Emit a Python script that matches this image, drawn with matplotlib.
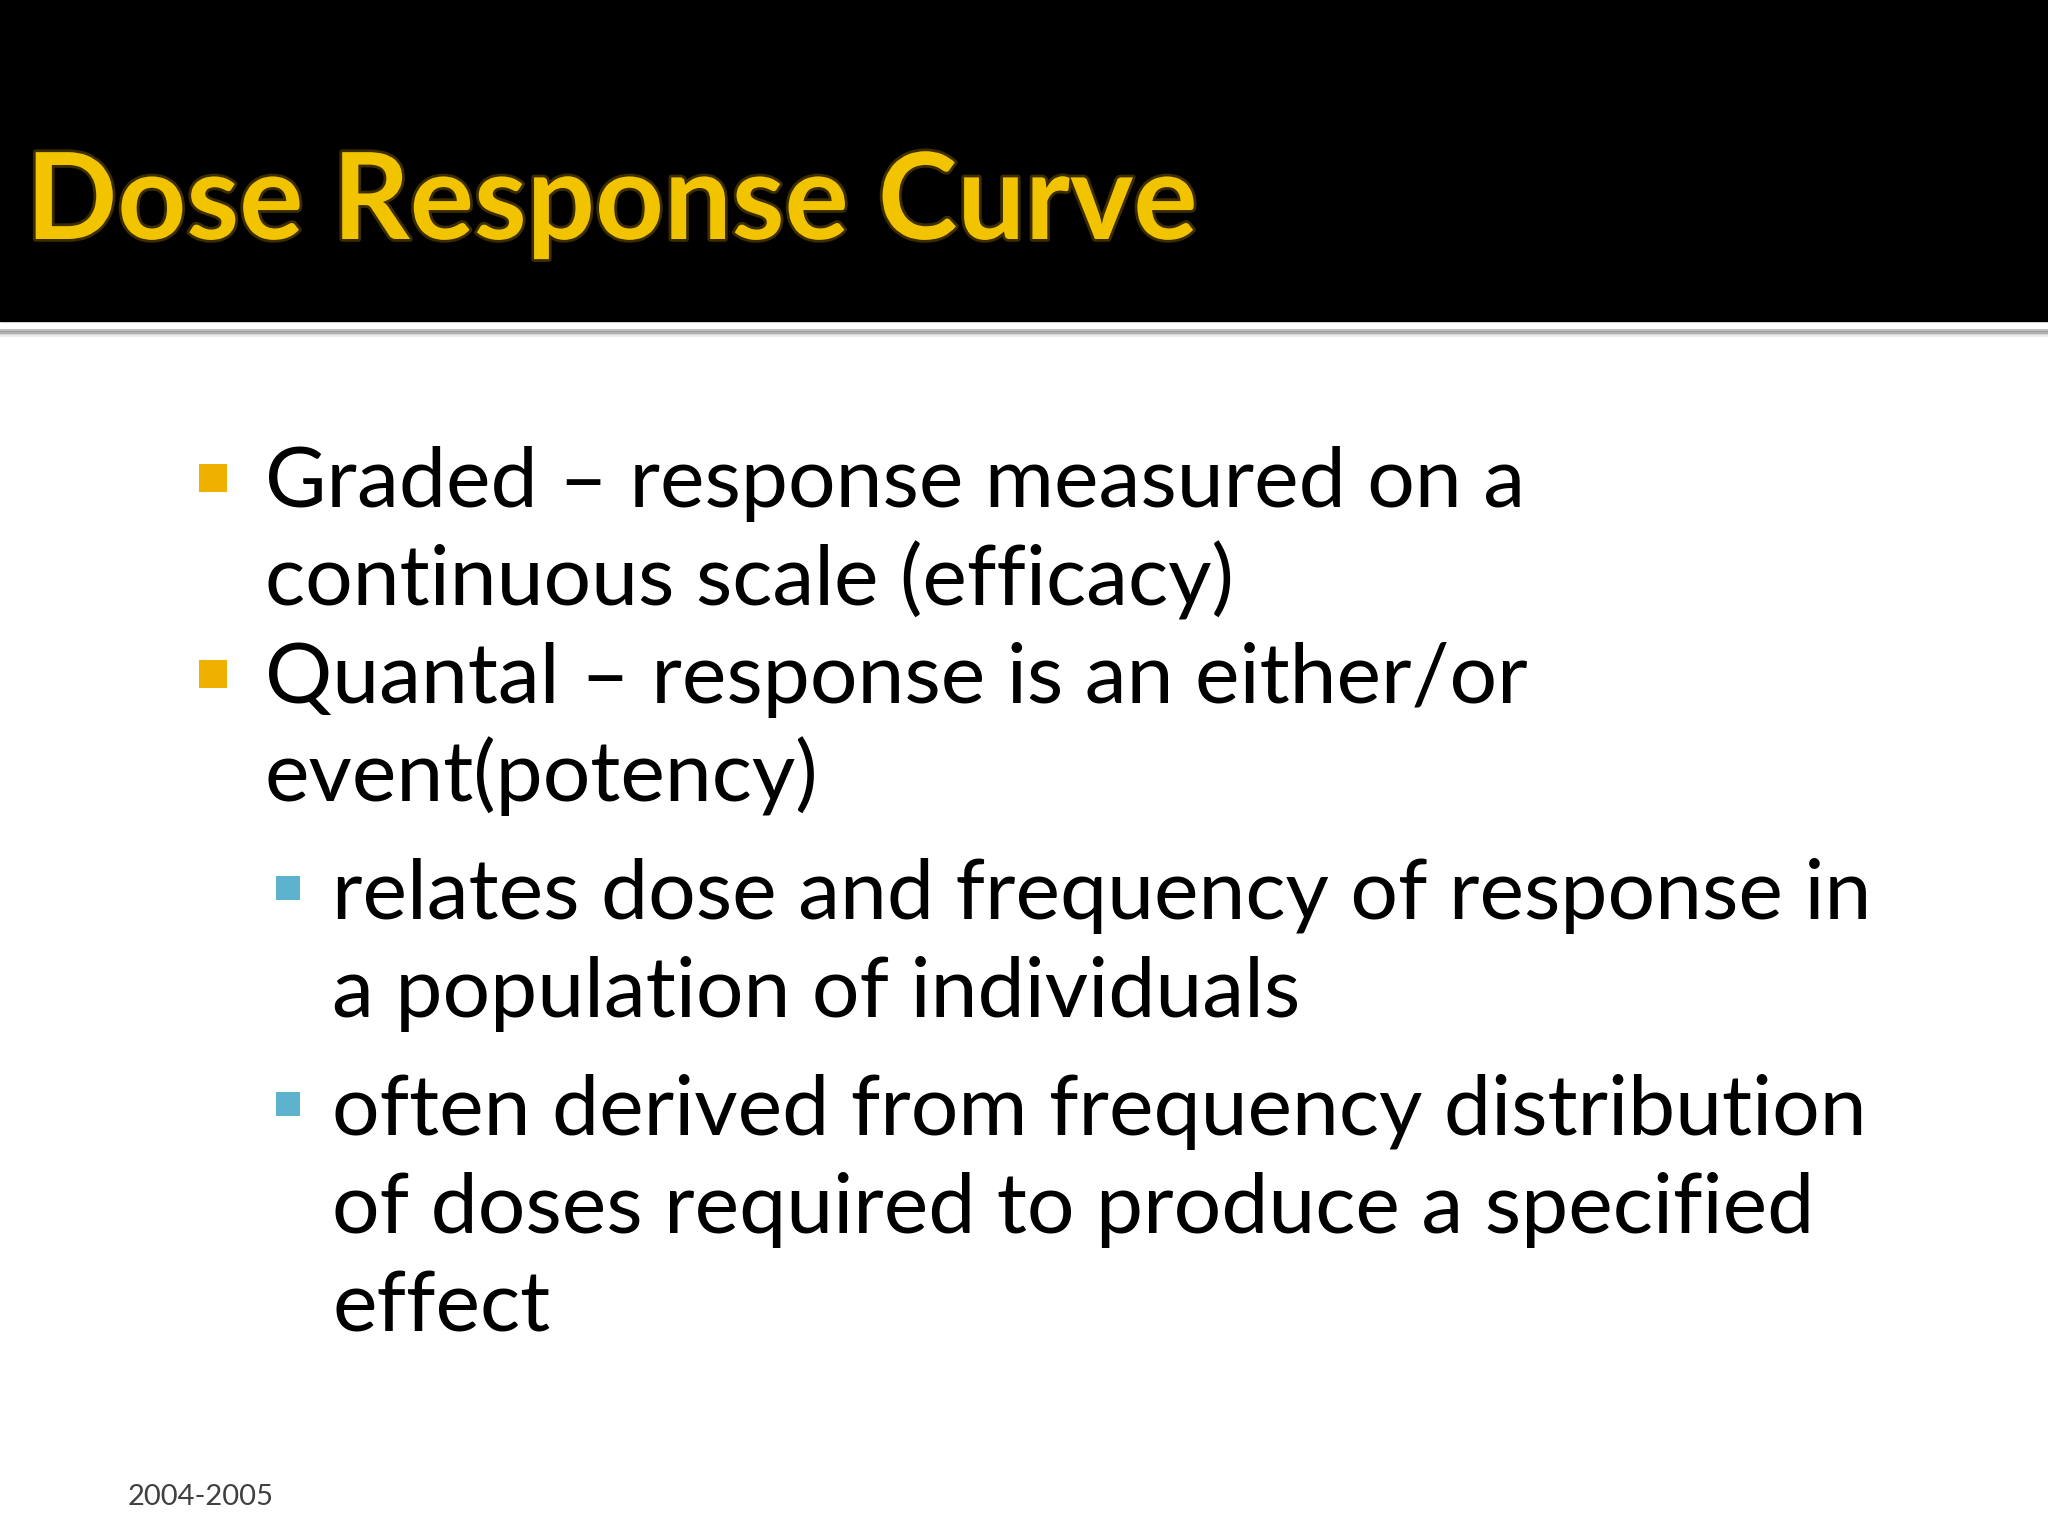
import matplotlib.pyplot as plt
import matplotlib.patheffects as pe
from matplotlib.patches import Rectangle

title = "Dose Response Curve"
footer = "2004-2005"

# (level, lines) for each bullet
bullets = [
    (0, ["Graded \u2013 response measured on a", "continuous scale (efficacy)"]),
    (0, ["Quantal \u2013 response is an either/or", "event(potency)"]),
    (1, ["relates dose and frequency of response in", "a population of individuals"]),
    (1, ["often derived from frequency distribution", "of doses required to produce a specified", "effect"]),
]
bullet_colors = {0: "#EFB000", 1: "#5DB3CE"}

W, H = 2048, 1536
fig = plt.figure(figsize=(W / 100, H / 100), dpi=100)
ax = fig.add_axes([0, 0, 1, 1])
ax.set_xlim(0, W)
ax.set_ylim(H, 0)
ax.axis("off")
fig.patch.set_facecolor("white")

# header band
ax.add_patch(Rectangle((0, 0), W, 321, color="black", zorder=1))
for i, c in enumerate(["#c0c0c0", "#9c9c9c", "#b0b0b0", "#d4d4d4", "#ececec"]):
    ax.add_patch(Rectangle((0, 329 + i * 1.5), W, 1.5, color=c, lw=0, zorder=1))

ax.text(26, 239, title, fontsize=86.5, family="Lato", weight="bold", color="#F2C400",
        va="baseline", ha="left", zorder=3,
        path_effects=[pe.withStroke(linewidth=4, foreground="#3b2d00")])

# body text
font = "Lato"
fs = 60.6
line_h = 98
y = 507
for level, lines in bullets:
    if level == 0:
        bx, tx, sq = 199, 265, 28
    else:
        bx, tx, sq = 276, 332, 24
        y += 20
    ax.add_patch(Rectangle((bx, y - 43), sq, sq, color=bullet_colors[level], lw=0, zorder=3))
    for ln in lines:
        ax.text(tx, y, ln, fontsize=fs, family=font, color="black", va="baseline", ha="left", zorder=3)
        y += line_h

ax.text(128, 1505, footer, fontsize=21, family="Lato", color="#404040", va="baseline", ha="left")

fig.savefig("out.png", dpi=100)
